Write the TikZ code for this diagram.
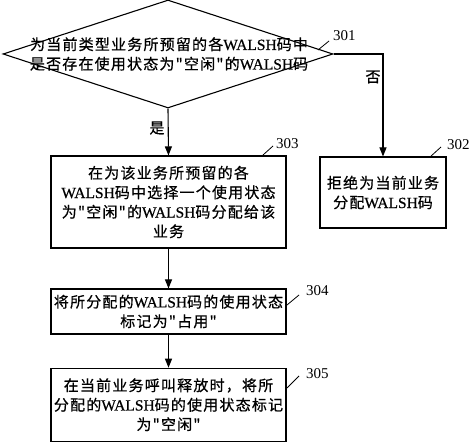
\documentclass[tikz,border=0pt]{standalone}
\usepackage{fontspec}
\usetikzlibrary{shapes.geometric,arrows.meta}
\newfontfamily\cjk[LetterSpace=8,FakeBold=0.6]{Noto Sans CJK SC}
\newfontfamily\lat[FakeBold=0.6]{Liberation Serif}
\newfontfamily\latnum{Liberation Serif}
\newcommand\W{{\lat\fontsize{15.5}{19.5}\selectfont WALSH}}
\tikzset{
  txt/.style={font=\cjk\fontsize{15}{19.5}\selectfont, align=center, inner sep=0pt},
  box/.style={draw, line width=1.1pt, inner sep=0pt, txt},
  arr/.style={line width=1.1pt, -{Triangle[length=9pt,width=7pt]}},
  num/.style={font=\latnum\fontsize{15}{18}\selectfont, inner sep=0pt},
  lead/.style={line width=0.8pt}
}
\begin{document}
\begin{tikzpicture}[x=1pt,y=1pt]
\useasboundingbox (0,0) rectangle (474,-443);
% decision
\node[draw, diamond, line width=1.1pt, minimum width=330pt, minimum height=108pt, inner sep=0pt] (d) at (168,-54) {};
\node[txt] (dt) at (169,-54) {为当前类型业务所预留的各\W 码中\\是否存在使用状态为"空闲"的\W 码};
% boxes
\node[box, minimum width=235pt, minimum height=92pt] (b303) at (168.5,-202)
  {在为该业务所预留的各\\\W 码中选择一个使用状态\\为"空闲"的\W 码分配给该\\业务};
\node[box, minimum width=126pt, minimum height=71pt] (b302) at (383,-192.5)
  {拒绝为当前业务\\分配\W 码};
\node[box, minimum width=235pt, minimum height=45pt] (b304) at (168.5,-311.5)
  {将所分配的\W 码的使用状态\\标记为"占用"};
\node[box, minimum width=235pt, minimum height=73pt] (b305) at (168.5,-404.75)
  {在当前业务呼叫释放时，将所\\分配的\W 码的使用状态标记\\为"空闲"};
% connectors
\draw[arr] (d.south) -- (b303.north);
\draw[arr] (d.east) -| (b302.north);
\draw[arr] (b303.south) -- (b304.north);
\draw[arr] (b304.south) -- (b305.north);
% branch labels
\node[txt] (yes) at (157,-128) {是};
\node[txt] (no) at (373,-77) {否};
% step numbers
\draw[lead] (318,-50) -- (329,-41);
\node[num, anchor=west] (n301) at (333,-36) {301};
\draw[lead] (263,-155) -- (273,-146);
\node[num, anchor=west] (n303) at (276,-144) {303};
\draw[lead] (430,-157) -- (441,-147);
\node[num, anchor=west] (n302) at (447,-145) {302};
\draw[lead] (287,-305) -- (299,-295);
\node[num, anchor=west] (n304) at (306,-291) {304};
\draw[lead] (287,-388) -- (299,-376);
\node[num, anchor=west] (n305) at (306,-374) {305};
\end{tikzpicture}
\end{document}
